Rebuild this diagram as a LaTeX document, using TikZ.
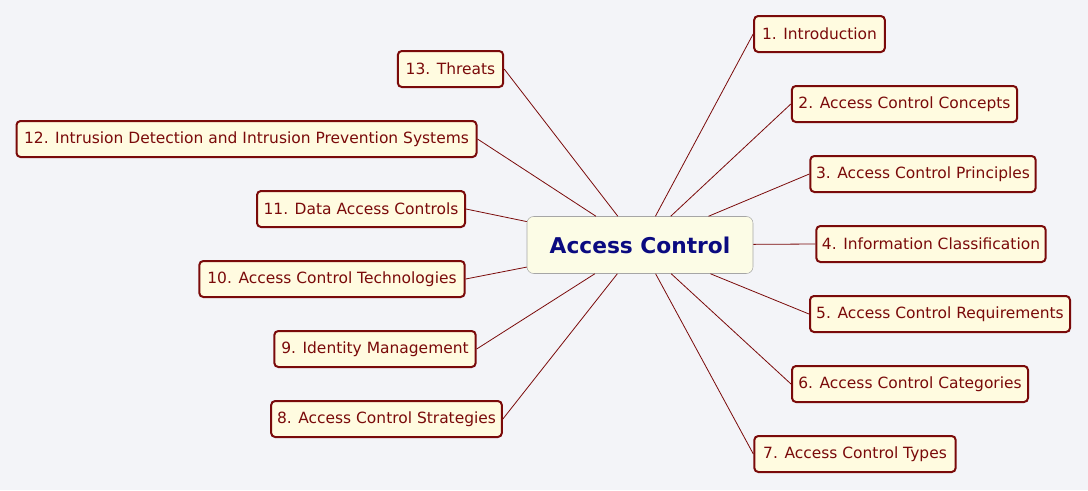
\documentclass[tikz,border=0pt]{standalone}
\usepackage{fontspec}
\setmainfont{DejaVu Sans}
\definecolor{bg}{HTML}{F3F4F8}
\definecolor{topic}{HTML}{7A0A0A}
\definecolor{tfill}{HTML}{FFFBE0}
\definecolor{cfill}{HTML}{FCFCE6}
\definecolor{navy}{HTML}{0A0A80}
\begin{document}
\begin{tikzpicture}[x=0.75pt,y=-0.75pt,
  topicbox/.style={draw=topic,line width=1.5pt,rounded corners=3pt,fill=tfill,text=topic,
    font=\fontsize{11.6}{13}\selectfont,inner sep=0pt,minimum height=27pt},
  link/.style={draw=topic,line width=0.6pt}]
\fill[bg] (0,0) rectangle (1088,490);
\useasboundingbox (0,0) rectangle (1088,490);
\node[draw=gray!70,rounded corners=5pt,fill=cfill,minimum width=169.5pt,minimum height=42.75pt,
  text=navy,font=\bfseries\fontsize{16.3}{18}\selectfont] (c) at (640,245) {Access Control};
\node[topicbox,minimum width=98pt]  (t1) at (819.5,34) {1. Introduction};
\node[topicbox,minimum width=169pt] (t2) at (904.5,104) {2. Access Control Concepts};
\node[topicbox,minimum width=169pt] (t3) at (923,174) {3. Access Control Principles};
\node[topicbox,minimum width=172pt] (t4) at (931,244) {4. Information Classification};
\node[topicbox,minimum width=195pt] (t5) at (940,314) {5. Access Control Requirements};
\node[topicbox,minimum width=177pt] (t6) at (910,384) {6. Access Control Categories};
\node[topicbox,minimum width=151pt] (t7) at (855,454) {7. Access Control Types};
\node[topicbox,minimum width=173pt] (t8) at (386.5,419) {8. Access Control Strategies};
\node[topicbox,minimum width=151pt] (t9) at (375,349) {9. Identity Management};
\node[topicbox,minimum width=199pt] (t10) at (332,279) {10. Access Control Technologies};
\node[topicbox,minimum width=156pt] (t11) at (361,209) {11. Data Access Controls};
\node[topicbox,minimum width=345pt] (t12) at (246.5,139) {12. Intrusion Detection and Intrusion Prevention Systems};
\node[topicbox,minimum width=79pt]  (t13) at (450.5,69) {13. Threats};
\foreach \i in {1,...,7} \draw[link] (c) -- (t\i.west);
\foreach \i in {8,...,13} \draw[link] (c) -- (t\i.east);
\end{tikzpicture}
\end{document}
